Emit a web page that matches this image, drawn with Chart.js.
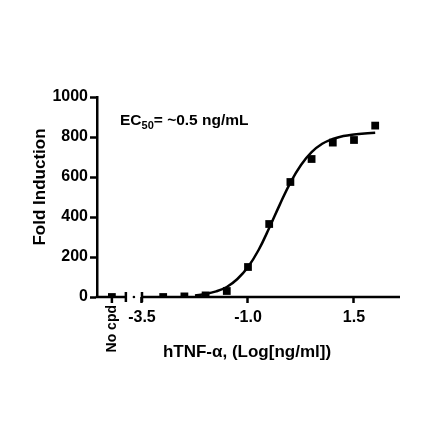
<!DOCTYPE html>
<html>
<head>
<meta charset="utf-8">
<script src="https://cdn.jsdelivr.net/npm/chart.js@4/dist/chart.umd.min.js"></script>
<style>
  html, body { margin: 0; padding: 0; background: #fff; }
  #wrap { width: 440px; height: 440px; }
</style>
</head>
<body>
<div id="wrap"><canvas id="doseChart" width="440" height="440"></canvas></div>
<script>
// dose–response: hTNF-α (log ng/ml) vs fold induction

// ── DATA ─────────────────────────────────────────────
const doseLog = [-4.21, -3.0, -2.5, -2.0, -1.5, -1.0, -0.5, 0.0, 0.5, 1.0, 1.5, 2.0];
const foldInduction = [0, 0, 3, 8, 30, 150, 365, 575, 690, 772, 785, 857];

// fitted curve
const curveLog = [-2.25, -2.0, -1.75, -1.5, -1.25, -1.0, -0.75, -0.5, -0.25, 0.0, 0.25, 0.5, 0.75, 1.0, 1.25, 1.5, 1.75, 2.0];
const curveFold = [8, 15, 28, 50, 90, 150, 235, 345, 462, 572, 660, 724, 766, 790, 805, 813, 818, 821];

const xTicks = [-3.5, -1.0, 1.5];
const yTicks = [0, 200, 400, 600, 800, 1000];
const noCpdLog = -4.21;

const FONT = '"Liberation Sans", Arial, sans-serif';

// ── AXIS BREAK / LABELS PLUGIN ───────────────────────
const decor = {
  id: 'decor',
  afterDraw(chart) {
    const { ctx, chartArea, scales: { x, y } } = chart;
    const y0 = y.getPixelForValue(0);
    const brkA = x.getPixelForValue(-3.88);
    const brkB = x.getPixelForValue(-3.5);
    const px0 = x.getPixelForValue(noCpdLog);

    ctx.save();
    ctx.strokeStyle = '#000';
    ctx.fillStyle = '#000';
    ctx.lineWidth = 2.5;
    ctx.lineCap = 'butt';

    // x axis with break
    ctx.beginPath();
    ctx.moveTo(chartArea.left - 1.25, y0);
    ctx.lineTo(brkA, y0);
    ctx.moveTo(brkB, y0);
    ctx.lineTo(chartArea.right, y0);
    // break markers
    ctx.moveTo(brkA, y0 - 5);
    ctx.lineTo(brkA, y0 + 5);
    ctx.moveTo(brkB, y0 - 5);
    ctx.lineTo(brkB, y0 + 5);
    // No cpd tick
    ctx.moveTo(px0, y0);
    ctx.lineTo(px0, y0 + 6);
    ctx.stroke();

    ctx.beginPath();
    ctx.arc((brkA + brkB) / 2, y0, 1.3, 0, Math.PI * 2);
    ctx.fill();

    // No cpd label (rotated)
    ctx.font = 'bold 14px ' + FONT;
    ctx.save();
    ctx.translate(px0, y0 + 8);
    ctx.rotate(-Math.PI / 2);
    ctx.textAlign = 'right';
    ctx.textBaseline = 'middle';
    ctx.fillText('No cpd', 0, 0);
    ctx.restore();

    // axis titles
    ctx.font = 'bold 17px ' + FONT;
    ctx.textAlign = 'center';
    ctx.textBaseline = 'middle';
    ctx.fillText('hTNF-α, (Log[ng/ml])', 247, 352);
    ctx.save();
    ctx.translate(40, 187);
    ctx.rotate(-Math.PI / 2);
    ctx.fillText('Fold Induction', 0, 0);
    ctx.restore();

    // EC50 note
    ctx.textAlign = 'left';
    ctx.textBaseline = 'alphabetic';
    ctx.font = 'bold 15.5px ' + FONT;
    let tx = 120;
    ctx.fillText('EC', tx, 125);
    tx += ctx.measureText('EC').width;
    ctx.font = 'bold 11px ' + FONT;
    ctx.fillText('50', tx, 129);
    tx += ctx.measureText('50').width;
    ctx.font = 'bold 15.5px ' + FONT;
    ctx.fillText('= ~0.5 ng/mL', tx, 125);
    ctx.restore();
  }
};

new Chart(document.getElementById('doseChart'), {
  type: 'scatter',
  data: {
    datasets: [{
      label: 'Fit',
      type: 'line',
      data: curveLog.map((v, i) => ({ x: v, y: curveFold[i] })),
      borderColor: '#000',
      borderWidth: 2.5,
      pointRadius: 0,
      fill: false,
      tension: 0.4
    }, {
      label: 'Data',
      data: doseLog.map((v, i) => ({ x: v, y: foldInduction[i] })),
      pointStyle: 'rect',
      pointRadius: 5.5,
      backgroundColor: '#000',
      borderColor: '#000',
      borderWidth: 0
    }]
  },
  options: {
    responsive: false,
    animation: false,
    devicePixelRatio: 1,
    layout: { padding: { left: 0, top: 97, right: 40, bottom: 0 } },
    plugins: { legend: { display: false }, tooltip: { enabled: false } },
    scales: {
      x: {
        type: 'linear',
        min: -4.561,
        max: 2.585,
        afterFit: s => { s.height = 143; },
        afterBuildTicks: s => { s.ticks = xTicks.map(v => ({ value: v })); },
        grid: { display: true, drawOnChartArea: false, tickLength: 6, tickWidth: 2.5, color: '#000' },
        border: { display: false },
        ticks: {
          color: '#000',
          padding: 5,
          maxRotation: 0,
          font: { family: FONT, size: 16, weight: 'bold' },
          callback: v => v.toFixed(1)
        }
      },
      y: {
        min: 0,
        max: 1000,
        afterFit: s => { s.width = 97; },
        afterBuildTicks: s => { s.ticks = yTicks.map(v => ({ value: v })); },
        grid: { display: true, drawOnChartArea: false, tickLength: 7, tickWidth: 2.5, color: '#000' },
        border: { display: true, width: 2.5, color: '#000' },
        ticks: {
          color: '#000',
          padding: 2,
          font: { family: FONT, size: 16, weight: 'bold' },
          callback: v => String(v)
        }
      }
    }
  },
  plugins: [decor]
});
</script>
</body>
</html>
